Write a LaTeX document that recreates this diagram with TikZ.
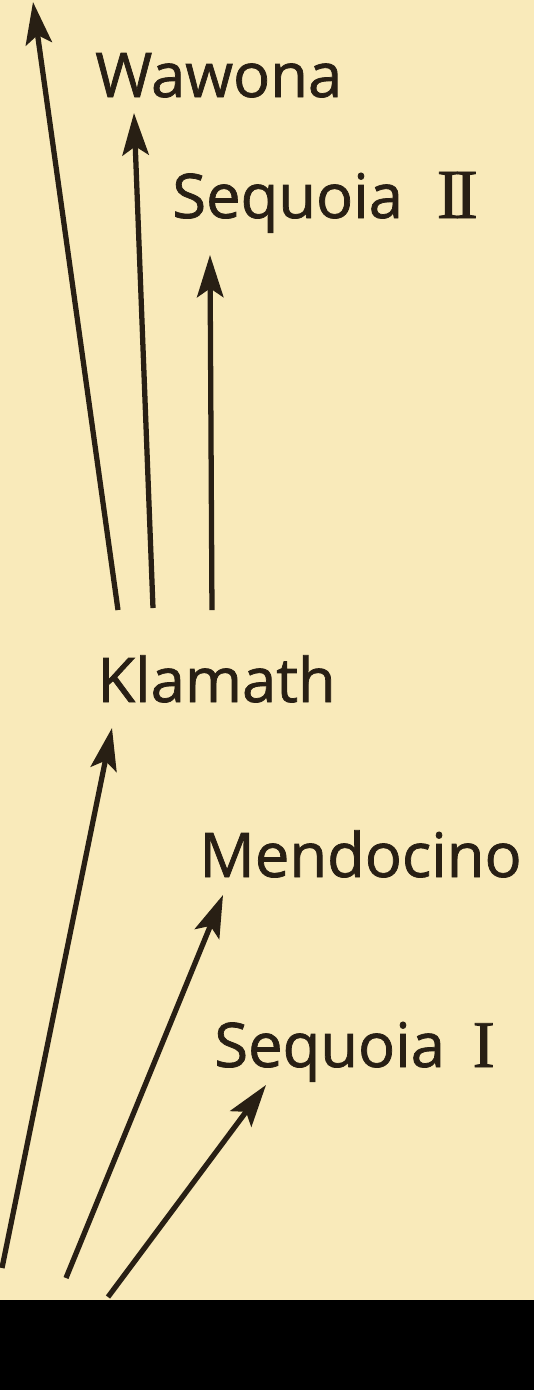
\documentclass[tikz,border=0pt]{standalone}
\usepackage{fontspec}
\setmainfont{Open Sans}[FakeBold=1.2]
\newfontfamily\numfont{Liberation Serif}[FakeBold=1.2]
\usetikzlibrary{arrows.meta}

\definecolor{paper}{RGB}{249,234,186}
\definecolor{ink}{RGB}{40,31,20}

\tikzset{
    lbl/.style={anchor=base west, inner sep=0pt, text=ink, font=\fontsize{35}{40}\selectfont},
    arr/.style={draw=ink, line width=3pt, -{Stealth[length=24pt, width=15pt, inset=5pt]}}
}

\begin{document}
\begin{tikzpicture}[x=0.02cm, y=-0.02cm]
            \useasboundingbox (0, 0) rectangle (534, 1390);
            \fill[paper] (0, 0) rectangle (534, 1300);
            \fill[black] (0, 1300) rectangle (534, 1390);

            \node[lbl] (wawona) at (95, 97) {Wawona};
            \node[lbl] (seqtwo) at (172, 218) {Sequoia\hspace{0.55em}{\numfont\fontsize{40}{40}\selectfont I\kern-0.08em I}};
            \node[lbl] (klamath) at (97, 702) {Klamath};
            \node[lbl] (mendocino) at (199, 877) {Mendocino};
            \node[lbl] (seqone) at (214, 1067) {Sequoia\hspace{0.45em}{\numfont\fontsize{38}{40}\selectfont I}};

            \coordinate (top) at (33, 2);
            \coordinate (root1) at (2, 1268);
            \coordinate (root2) at (66, 1278);
            \coordinate (root3) at (108, 1297);

            \draw[arr] ([xshift=0.42cm, yshift=1.84cm]klamath.base west) -- (top);
            \draw[arr] ([xshift=1.12cm, yshift=1.88cm]klamath.base west) -- ([xshift=0.78cm, yshift=-0.32cm]wawona.base west);
            \draw[arr] ([xshift=2.3cm, yshift=1.84cm]klamath.base west) -- ([xshift=0.76cm, yshift=-0.74cm]seqtwo.base west);

            \draw[arr] (root1) -- ([xshift=0.3cm, yshift=-0.52cm]klamath.base west);
            \draw[arr] (root2) -- ([xshift=0.48cm, yshift=-0.36cm]mendocino.base west);
            \draw[arr] (root3) -- ([xshift=1.04cm, yshift=-0.36cm]seqone.base west);

        \end{tikzpicture}
\end{document}
